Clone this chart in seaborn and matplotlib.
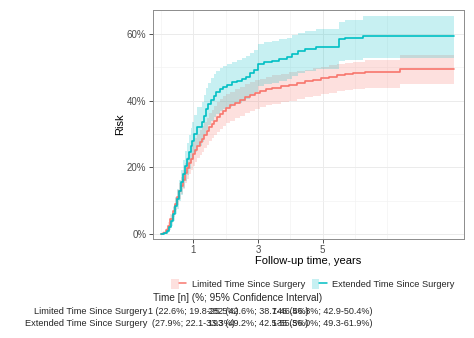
import matplotlib
matplotlib.use("Agg")
import matplotlib.pyplot as plt
import matplotlib.transforms as mtransforms
from matplotlib.patches import Patch
from matplotlib.lines import Line2D
from matplotlib.legend_handler import HandlerTuple
from matplotlib.ticker import PercentFormatter, FixedLocator
import numpy as np
import pandas as pd
import seaborn as sns

# Cumulative incidence (%) with 95% CI, by group
lim_time = [0, 0.08, 0.15, 0.22, 0.3, 0.37, 0.44, 0.5, 0.56, 0.62, 0.68, 0.75, 0.81, 0.88, 0.94,
            1.0, 1.06, 1.13, 1.2, 1.27, 1.35, 1.42, 1.5, 1.58, 1.66, 1.75, 1.84, 1.93, 2.02, 2.15,
            2.3, 2.45, 2.6, 2.75, 2.9, 3.05, 3.25, 3.45, 3.7, 3.95, 4.2, 4.45, 4.7, 4.95, 5.2,
            5.45, 5.7, 5.95, 6.3, 7.4, 9.06]
lim_risk = [0, 0.4, 1.2, 2.5, 4.5, 6.8, 9.0, 11.0, 12.8, 14.5, 16.3, 18.2, 19.8, 21.2, 22.6,
            24.0, 25.2, 26.4, 27.5, 28.6, 29.7, 30.8, 32.0, 33.0, 34.0, 35.0, 36.0, 37.0, 37.9, 38.6,
            39.4, 40.2, 41.0, 41.8, 42.4, 42.9, 43.4, 43.9, 44.3, 44.8, 45.3, 45.8, 46.3, 46.8, 47.2,
            47.6, 48.1, 48.4, 48.7, 49.6, 49.6]
lim_lower = [0, 0.1, 0.6, 1.6, 3.2, 5.2, 7.1, 8.8, 10.4, 11.9, 13.5, 15.2, 16.6, 17.9, 19.2,
             20.5, 21.6, 22.7, 23.7, 24.7, 25.7, 26.7, 27.8, 28.7, 29.6, 30.5, 31.4, 32.4, 33.2, 33.9,
             34.7, 35.4, 36.2, 37.0, 37.6, 38.1, 38.6, 39.1, 39.5, 40.0, 40.5, 41.0, 41.5, 42.0, 42.4,
             42.8, 43.3, 43.6, 43.9, 45.0, 45.0]
lim_upper = [0, 0.8, 1.9, 3.5, 5.9, 8.4, 10.9, 13.2, 15.2, 17.1, 19.1, 21.2, 23.0, 24.5, 26.0,
             27.5, 28.8, 30.1, 31.3, 32.5, 33.7, 34.9, 36.2, 37.3, 38.4, 39.5, 40.5, 41.3, 42.0, 42.7,
             43.4, 44.2, 44.9, 45.6, 46.1, 46.6, 47.1, 47.6, 48.0, 48.5, 48.9, 49.3, 49.7, 50.2, 50.6,
             51.0, 51.4, 51.7, 52.3, 53.6, 53.6]

ext_time = [0, 0.1, 0.18, 0.25, 0.32, 0.38, 0.44, 0.5, 0.56, 0.62, 0.68, 0.74, 0.8, 0.86, 0.92,
            0.98, 1.04, 1.12, 1.27, 1.33, 1.4, 1.47, 1.55, 1.63, 1.72, 1.82, 1.92, 2.05, 2.2, 2.35,
            2.5, 2.62, 2.75, 2.88, 3.0, 3.2, 3.45, 3.65, 3.9, 4.05, 4.25, 4.45, 4.8, 5.5, 5.7,
            6.26, 9.06]
ext_risk = [0, 0.3, 1.0, 2.2, 4.0, 6.0, 8.5, 10.5, 13.0, 15.5, 18.0, 20.5, 22.5, 24.5, 26.5,
            28.0, 30.0, 32.0, 33.5, 35.5, 37.5, 39.0, 40.3, 41.5, 42.6, 43.4, 44.1, 44.8, 45.5, 46.0,
            46.6, 47.2, 48.3, 49.2, 51.0, 51.5, 52.0, 52.6, 53.0, 54.0, 54.8, 55.6, 56.2, 58.4, 58.8,
            59.3, 59.3]
ext_lower = [0, 0.05, 0.4, 1.2, 2.5, 4.0, 6.0, 7.6, 9.8, 11.8, 13.9, 16.0, 17.8, 19.6, 21.4,
             22.7, 24.5, 26.3, 27.7, 29.5, 31.3, 32.7, 33.9, 35.0, 36.0, 36.8, 37.5, 38.2, 38.9, 39.4,
             40.0, 40.6, 41.7, 42.6, 44.4, 44.9, 45.4, 46.0, 46.4, 47.4, 48.2, 49.0, 49.6, 51.9, 52.3,
             52.8, 52.8]
ext_upper = [0, 0.6, 1.7, 3.3, 5.6, 8.0, 11.0, 13.5, 16.3, 19.2, 22.1, 25.0, 27.3, 29.6, 31.8,
             33.5, 35.7, 38.0, 39.6, 41.7, 43.8, 45.4, 46.7, 47.9, 48.9, 49.7, 50.4, 51.0, 51.6, 52.1,
             52.7, 53.3, 54.4, 55.3, 57.0, 57.5, 57.9, 58.5, 58.9, 59.7, 60.3, 61.0, 61.5, 63.6, 64.0,
             65.3, 65.3]

groups = ["Limited Time Since Surgery", "Extended Time Since Surgery"]
colors = ["#F8766D", "#00BFC4"]

# Risk table: time points and cell text
table_times = [1, 3, 5]
lim_table = ["1 (22.6%; 19.8-25.5%)", "282 (42.6%; 38.7-46.5%)", "146 (46.8%; 42.9-50.4%)"]
ext_table = ["(27.9%; 22.1-33.3%)", "193 (49.2%; 42.5-55.3%)", "135 (56.0%; 49.3-61.9%)"]
table_title = "Time [n] (%; 95% Confidence Interval)"

x_ticks = [1, 3, 5]
y_ticks = [0, 0.2, 0.4, 0.6]

frames = []
for g, t, r, lo, hi in [(groups[0], lim_time, lim_risk, lim_lower, lim_upper),
                        (groups[1], ext_time, ext_risk, ext_lower, ext_upper)]:
    frames.append(pd.DataFrame({"time": t, "risk": np.array(r) / 100,
                                "lower": np.array(lo) / 100, "upper": np.array(hi) / 100,
                                "group": g}))
df = pd.concat(frames, ignore_index=True)

sns.set_theme(style="white")
plt.rcParams["font.family"] = ["Liberation Sans", "DejaVu Sans"]

fig = plt.figure(figsize=(4.74, 3.38), dpi=100)
ax = fig.add_axes([0.322, 0.294, 0.656, 0.676])

# confidence bands
band_alpha = 0.22
for g, c in zip(groups, colors):
    d = df[df["group"] == g]
    ax.fill_between(d["time"], d["lower"], d["upper"], step="post",
                    color=c, alpha=band_alpha, linewidth=0, zorder=2)

sns.lineplot(data=df, x="time", y="risk", hue="group", hue_order=groups,
             palette=colors, estimator=None, drawstyle="steps-post",
             linewidth=1.2, legend=False, ax=ax, zorder=3)

ax.set_xlim(-0.25, 9.35)
ax.set_ylim(-0.0135, 0.671)
ax.xaxis.set_major_locator(FixedLocator(x_ticks))
ax.xaxis.set_minor_locator(FixedLocator([0, 2, 4, 6, 7]))
ax.yaxis.set_major_locator(FixedLocator(y_ticks))
ax.yaxis.set_minor_locator(FixedLocator([0.1, 0.3, 0.5]))
ax.yaxis.set_major_formatter(PercentFormatter(1.0, decimals=0))

ax.grid(which="major", color="#EBEBEB", linewidth=0.7, zorder=0)
ax.grid(which="minor", color="#F2F2F2", linewidth=0.45, zorder=0)
ax.set_axisbelow(True)
for s in ax.spines.values():
    s.set_color("#8C8C8C")
    s.set_linewidth(0.7)

ax.tick_params(axis="both", which="major", length=3, width=0.6, color="#333333",
               labelsize=7, labelcolor="#4D4D4D", pad=1.5, bottom=True, left=True)
ax.tick_params(axis="both", which="minor", length=0)

ax.set_xlabel("Follow-up time, years", fontsize=8, color="black", labelpad=0.5)
ax.set_ylabel("Risk", fontsize=8, color="black", labelpad=1.5)

# legend
handles = [(Patch(facecolor=c, alpha=band_alpha, edgecolor="none"),
            Line2D([], [], color=c, linewidth=1.1)) for c in colors]
fig.legend(handles, groups, loc="center", bbox_to_anchor=(313 / 474, 1 - 284 / 338),
           ncol=2, frameon=False, fontsize=6.7, handlelength=1.6, handleheight=1.3,
           handletextpad=0.6, columnspacing=0.7,
           handler_map={tuple: HandlerTuple(ndivide=None, pad=0)})

# risk table
fig.text(153 / 474, 1 - 298 / 338, table_title, fontsize=7.2, ha="left", va="center")
trans = mtransforms.blended_transform_factory(ax.transData, fig.transFigure)
for row_y, g, cells in [(1 - 312 / 338, groups[0], lim_table),
                        (1 - 323 / 338, groups[1], ext_table)]:
    fig.text(147 / 474, row_y, g, fontsize=6.7, ha="right", va="center")
    for t, s in zip(table_times, cells):
        ax.text(t, row_y, s, transform=trans, fontsize=6.5, ha="center", va="center",
                clip_on=False)

fig.savefig("out.png", dpi=100)
